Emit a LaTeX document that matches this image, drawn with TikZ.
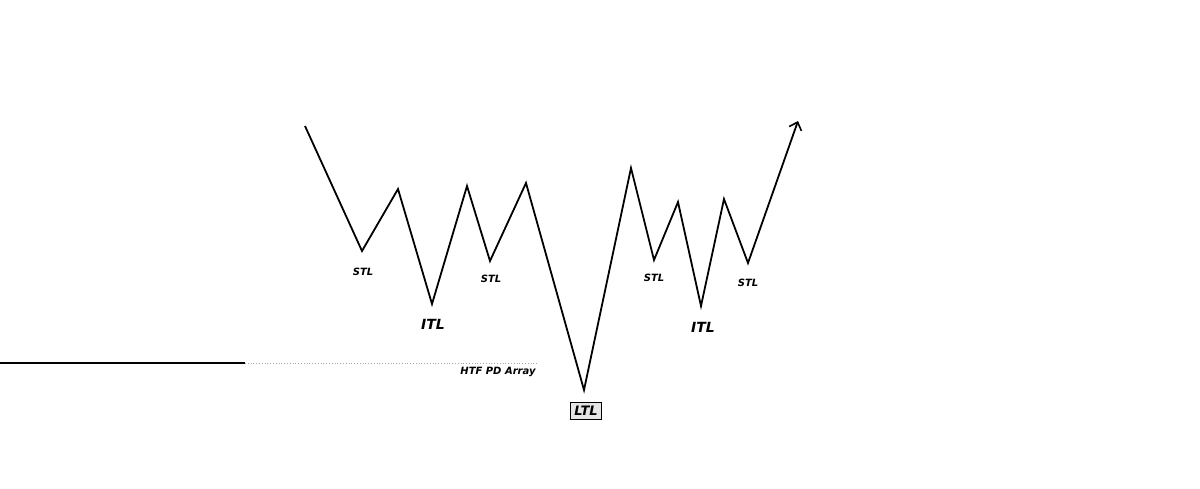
\documentclass[tikz,border=0pt]{standalone}
\usepackage{fontspec}
\setmainfont{DejaVu Sans}
\usetikzlibrary{arrows.meta}
\begin{document}
\begin{tikzpicture}[x=1pt,y=-1pt,
  lbl/.style={font=\bfseries\itshape\fontsize{10}{12}\selectfont, inner sep=0pt},
  biglbl/.style={font=\bfseries\itshape\fontsize{14}{16}\selectfont, inner sep=0pt},
  price/.style={line width=1.8pt, line join=miter, black}]
\useasboundingbox (0,0) rectangle (1200,488);
\coordinate (p0) at (305,126);
\coordinate (p1) at (362,251);
\coordinate (p2) at (398,189);
\coordinate (p3) at (432,304);
\coordinate (p4) at (467,186);
\coordinate (p5) at (490,261);
\coordinate (p6) at (526,183);
\coordinate (p7) at (584,390);
\coordinate (p8) at (631,168);
\coordinate (p9) at (654,260);
\coordinate (p10) at (678,202);
\coordinate (p11) at (701,306);
\coordinate (p12) at (724,199);
\coordinate (p13) at (748,263);
\coordinate (p14) at (798,121);
\draw[price, -{Straight Barb[length=7pt,width=13pt,line width=1.6pt]}] (p0) -- (p1) -- (p2) -- (p3) -- (p4) -- (p5) -- (p6) -- (p7) -- (p8) -- (p9) -- (p10) -- (p11) -- (p12) -- (p13) -- (p14);
\coordinate (h0) at (0,363);
\coordinate (h1) at (245,363);
\coordinate (h2) at (538,363);
\draw[line width=2pt] (h0) -- (h1);
\draw[gray!70, line width=0.8pt, dotted] (h1) -- (h2);
\node[lbl] (stl1) at (363,272) {STL};
\node[biglbl] (itl1) at (433,324) {ITL};
\node[lbl] (stl2) at (491,279) {STL};
\node[font=\bfseries\itshape\fontsize{13}{15}\selectfont, draw=black, line width=1pt, fill=gray!20, inner xsep=3.5pt, inner ysep=4pt] (ltl) at (586,411) {LTL};
\node[lbl] (stl3) at (654,278) {STL};
\node[biglbl] (itl2) at (703,327) {ITL};
\node[lbl] (stl4) at (748,283) {STL};
\node[lbl] (htf) at (498,372) {HTF PD Array};
\end{tikzpicture}
\end{document}
